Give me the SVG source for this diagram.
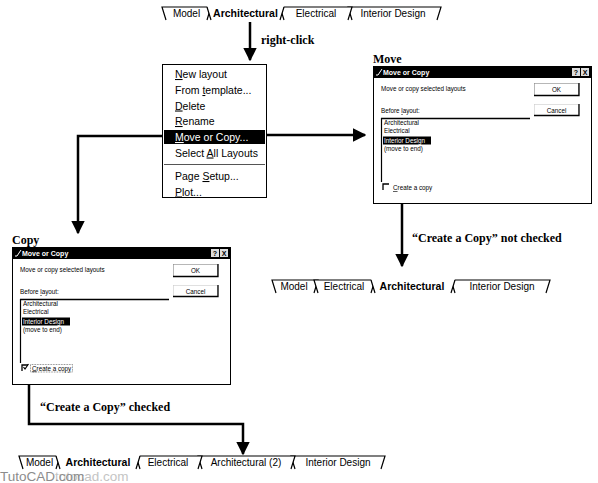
<svg xmlns="http://www.w3.org/2000/svg" width="598" height="483" viewBox="0 0 598 483">
<style>
.bg{fill:#fff}
.tab{font-family:"Liberation Sans",Arial,sans-serif;font-size:10px;fill:#000;text-anchor:middle}
.tabA{font-family:"Liberation Sans",Arial,sans-serif;font-size:10.5px;font-weight:bold;fill:#000;text-anchor:middle}
.tf{fill:#fff;stroke:none}
.ts{fill:none;stroke:#000;stroke-width:1.2}
.menu{font-family:"Liberation Sans",Arial,sans-serif;font-size:10.5px;fill:#000}
.lbl{font-family:"Liberation Serif","Times New Roman",serif;font-size:12px;font-weight:bold;fill:#000}
.dt{font-family:"Liberation Sans",Arial,sans-serif;font-size:6.3px;fill:#000}
.dtw{font-family:"Liberation Sans",Arial,sans-serif;font-size:6.3px;fill:#fff}
.ttl{font-family:"Liberation Sans",Arial,sans-serif;font-size:7px;font-weight:bold;fill:#fff}
.tbtn{font-family:"Liberation Sans",Arial,sans-serif;font-size:7px;font-weight:bold;fill:#000;text-anchor:middle}
.conn{fill:none;stroke:#000;stroke-width:2.5}
.u{text-decoration:underline}
.wm{font-family:"Liberation Sans",Arial,sans-serif;font-size:13.5px}
</style>
<defs>
<marker id="ah" viewBox="0 0 10 10" refX="9" refY="5" markerWidth="5.5" markerHeight="5.5" orient="auto" markerUnits="strokeWidth">
<path d="M0,0 L10,5 L0,10 z" fill="#000"/>
</marker>
<g id="dlgbase">
<rect x="0.5" y="0.5" width="218" height="137" fill="#fff" stroke="#000" stroke-width="1"/>
<rect x="0" y="0" width="219" height="12" fill="#000"/>
<path d="M3,9 L5,9 L9,3" fill="none" stroke="#fff" stroke-width="1"/>
<text class="ttl" x="10" y="9">Move or Copy</text>
<rect x="199" y="2" width="8" height="8" fill="#ddd"/>
<rect x="208" y="2" width="8" height="8" fill="#ddd"/>
<text class="tbtn" x="203" y="8.7">?</text>
<text class="tbtn" x="212" y="8.7">X</text>
<text class="dt" x="8" y="25">Move or copy selected layouts</text>
<rect x="161.5" y="17.5" width="44" height="12" fill="#fff" stroke="#888" stroke-width="0.6"/>
<path d="M161,29.5 H206 V17" fill="none" stroke="#000" stroke-width="1.3"/>
<text class="dt" x="183.5" y="26" text-anchor="middle">OK</text>
<rect x="161.5" y="38.5" width="44" height="11" fill="#fff" stroke="#ccc" stroke-width="0.6"/>
<path d="M161,49.5 H206 V38" fill="none" stroke="#000" stroke-width="1.3"/>
<text class="dt" x="183.5" y="46.5" text-anchor="middle">Cancel</text>
<text class="dt" x="8" y="47">Before <tspan class="u">l</tspan>ayout:</text>
<path d="M8,52.5 H157" stroke="#000" stroke-width="1.5"/>
<path d="M8.5,52 V116" stroke="#000" stroke-width="1.2"/>
<text class="dt" x="11" y="59">Architectural</text>
<text class="dt" x="11" y="67">Electrical</text>
<rect x="10" y="70.5" width="48" height="8" fill="#000"/>
<text class="dtw" x="11" y="76.5">Interior Design</text>
<text class="dt" x="11" y="85">(move to end)</text>
<path d="M10,124 V118 H16" fill="none" stroke="#000" stroke-width="1.3"/>
</g>
</defs>
<rect class="bg" x="0" y="0" width="598" height="483"/>

<g id="tabs-top">
<polygon class="tf" points="162,7 211,7 207,20 166,20"/>
<path class="ts" d="M166,20 L162,7 L211,7 L207,20"/>
<polygon class="tf" points="348,7 441,7 437,20 352,20"/>
<path class="ts" d="M352,20 L348,7 L441,7 L437,20"/>
<polygon class="tf" points="280,7 352,7 348,20 284,20"/>
<path class="ts" d="M284,20 L280,7 L352,7 L348,20"/>
<polygon class="tf" points="207,6 284,6 280,20 211,20"/>
<path class="ts" d="M211,20 L207,7 M284,7 L280,20"/>
<text class="tab" x="186.5" y="17">Model</text>
<text class="tabA" x="245.5" y="17">Architectural</text>
<text class="tab" x="316" y="17">Electrical</text>
<text class="tab" x="393" y="17">Interior Design</text>
</g>

<g id="menu">
<rect x="162.5" y="64.5" width="104" height="133" fill="#fff" stroke="#000" stroke-width="1"/>
<text class="menu" x="175" y="78"><tspan class="u">N</tspan>ew layout</text>
<text class="menu" x="175" y="94">From <tspan class="u">t</tspan>emplate...</text>
<text class="menu" x="175" y="109.5"><tspan class="u">D</tspan>elete</text>
<text class="menu" x="175" y="125"><tspan class="u">R</tspan>ename</text>
<rect x="164" y="130" width="101" height="14" fill="#000"/>
<text class="menu" x="175" y="141" style="fill:#fff"><tspan class="u">M</tspan>ove or Copy...</text>
<text class="menu" x="175" y="156.5">Select <tspan class="u">A</tspan>ll Layouts</text>
<path d="M164,164.5 H265" stroke="#555" stroke-width="1"/>
<text class="menu" x="175" y="180">Page <tspan class="u">S</tspan>etup...</text>
<text class="menu" x="175" y="195.5"><tspan class="u">P</tspan>lot...</text>
</g>

<g id="move-dialog">
<text class="lbl" x="373" y="63">Move</text>
<use href="#dlgbase" x="373" y="66"/>
<text class="dt" x="393" y="190"><tspan class="u">C</tspan>reate a copy</text>
</g>

<g id="copy-dialog">
<text class="lbl" x="12" y="244">Copy</text>
<use href="#dlgbase" x="12" y="247"/>
<path d="M23.5,367 L25,369 L28.5,364" fill="none" stroke="#000" stroke-width="1.2"/>
<text class="dt" x="32" y="370.5"><tspan class="u">C</tspan>reate a copy</text>
<rect x="30.5" y="364.5" width="42" height="7.5" fill="none" stroke="#000" stroke-width="0.5" stroke-dasharray="0.8,0.8"/>
</g>

<g id="tabs-move">
<polygon class="tf" points="272,280 318,280 314,293 276,293"/>
<path class="ts" d="M276,293 L272,280 L318,280 L314,293"/>
<polygon class="tf" points="314,280 375,280 371,293 318,293"/>
<path class="ts" d="M318,293 L314,280 L375,280 L371,293"/>
<polygon class="tf" points="451,280 550,280 546,293 455,293"/>
<path class="ts" d="M455,293 L451,280 L550,280 L546,293"/>
<polygon class="tf" points="371,279 455,279 451,293 375,293"/>
<path class="ts" d="M375,293 L371,280 M455,280 L451,293"/>
<text class="tab" x="294" y="290">Model</text>
<text class="tab" x="344" y="290">Electrical</text>
<text class="tabA" x="412" y="290">Architectural</text>
<text class="tab" x="502" y="290">Interior Design</text>
</g>

<g id="tabs-copy">
<polygon class="tf" points="291,456 385,456 381,469 295,469"/>
<path class="ts" d="M295,469 L291,456 L385,456 L381,469"/>
<polygon class="tf" points="198,456 295,456 291,469 202,469"/>
<path class="ts" d="M202,469 L198,456 L295,456 L291,469"/>
<polygon class="tf" points="136,456 202,456 198,469 140,469"/>
<path class="ts" d="M140,469 L136,456 L202,456 L198,469"/>
<polygon class="tf" points="19,456 60,456 56,469 23,469"/>
<path class="ts" d="M23,469 L19,456 L60,456 L56,469"/>
<polygon class="tf" points="56,455 140,455 136,469 60,469"/>
<path class="ts" d="M60,469 L56,456 M140,456 L136,469"/>
<text class="tab" x="39.5" y="466">Model</text>
<text class="tabA" x="98" y="466">Architectural</text>
<text class="tab" x="168" y="466">Electrical</text>
<text class="tab" x="246" y="466">Architectural (2)</text>
<text class="tab" x="338" y="466">Interior Design</text>
</g>

<g id="connectors">
<path class="conn" d="M250,22 V60" marker-end="url(#ah)"/>
<path class="conn" d="M267,135 H365" marker-end="url(#ah)"/>
<path class="conn" d="M163,136 H78 V233" marker-end="url(#ah)"/>
<path class="conn" d="M402,204 V266" marker-end="url(#ah)"/>
<path class="conn" d="M29,385 V424 H243 V454" marker-end="url(#ah)"/>
<text class="lbl" x="261" y="44">right-click</text>
<text class="lbl" x="412" y="242">“Create a Copy” not checked</text>
<text class="lbl" x="40" y="411">“Create a Copy” checked</text>
</g>

<g id="watermark">
<text class="wm" x="55" y="481" fill="#c4c4c4">tutocad.com</text>
<text class="wm" x="0" y="481" fill="#8c8c8c">TutoCAD.com</text>
</g>
</svg>
